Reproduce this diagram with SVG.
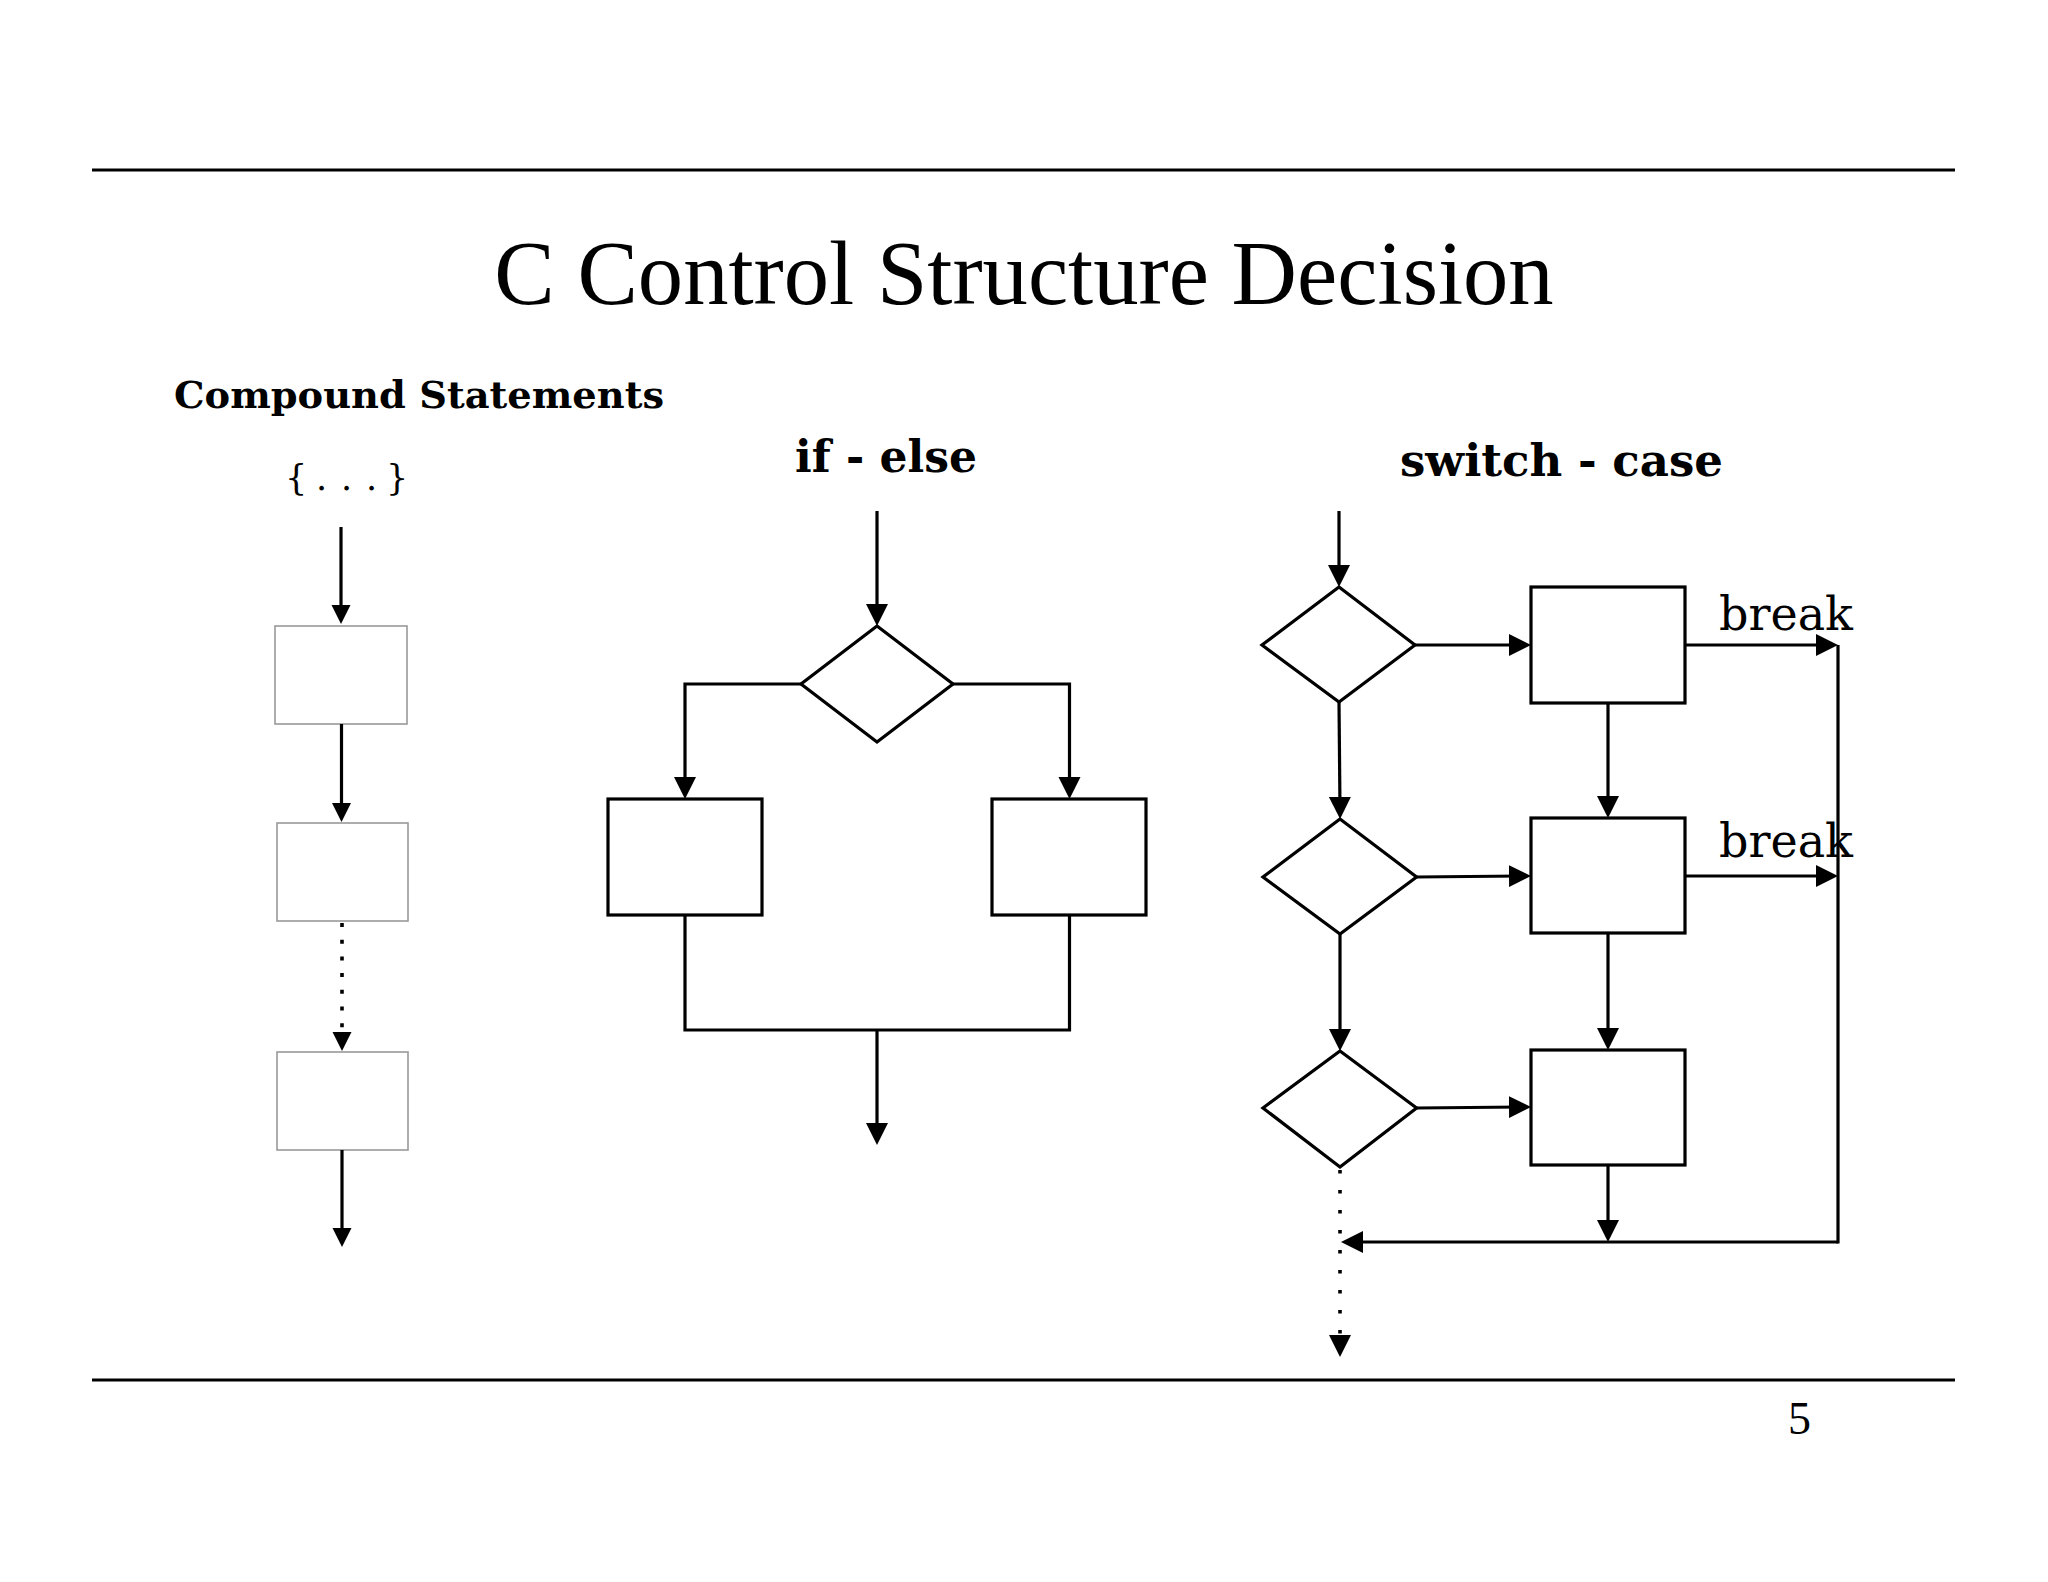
<svg xmlns="http://www.w3.org/2000/svg" width="2048" height="1582" viewBox="0 0 2048 1582">
<style>
.ln{stroke:#000;stroke-width:3.2;fill:none}
.sh{stroke:#000;stroke-width:3.2;fill:#fff}
.gb{stroke:#999;stroke-width:1.6;fill:#fff}
.arr{marker-end:url(#ah)}
.arrs{marker-end:url(#ahs)}
.dot1{stroke-dasharray:4 12.7;stroke-width:3.6}
.dot2{stroke-dasharray:3.5 16.5;stroke-width:3.6}
.hd{font-family:"DejaVu Serif","Liberation Serif",serif;font-weight:bold}
.lb{font-family:"DejaVu Serif","Liberation Serif",serif;font-size:46px}
</style>
<defs>
<marker id="ah" markerUnits="userSpaceOnUse" markerWidth="24" markerHeight="24" refX="12" refY="11" orient="auto" viewBox="0 0 24 24">
<path d="M0,0 L22,11 L0,22 z" fill="#000"/>
</marker>
<marker id="ahs" markerUnits="userSpaceOnUse" markerWidth="22" markerHeight="22" refX="10" refY="9.5" orient="auto" viewBox="0 0 22 22">
<path d="M0,0 L19,9.5 L0,19 z" fill="#000"/>
</marker>
</defs>
<rect width="2048" height="1582" fill="#fff"/>
<line x1="92" y1="170" x2="1955" y2="170" stroke="#000" stroke-width="3"/>
<line x1="92" y1="1380" x2="1955" y2="1380" stroke="#000" stroke-width="3"/>
<text x="1024" y="304" text-anchor="middle" font-family="'Liberation Serif',serif" font-size="90.6">C Control Structure Decision</text>
<text x="1788" y="1434" font-family="'Liberation Serif',serif" font-size="46">5</text>
<text class="hd" x="174" y="408" font-size="38" textLength="490" lengthAdjust="spacingAndGlyphs">Compound Statements</text>
<text class="hd" x="795" y="472" font-size="45" textLength="182" lengthAdjust="spacingAndGlyphs">if - else</text>
<text class="hd" x="1400" y="476" font-size="45" textLength="323" lengthAdjust="spacingAndGlyphs">switch - case</text>
<text x="285 305 316 330 341 355 366 378 386" y="490" font-family="'DejaVu Serif',serif" font-size="35">{ . . . }</text>
<g id="compound">
<rect id="c-box1" class="gb" x="275" y="626" width="132" height="98"/>
<rect id="c-box2" class="gb" x="277" y="823" width="131" height="98"/>
<rect id="c-box3" class="gb" x="277" y="1052" width="131" height="98"/>
</g>
<g id="ifelse">
<polygon id="ie-dec" class="sh" points="877,626 953,684 877,742 801,684"/>
<rect id="ie-left" class="sh" x="608" y="799" width="154" height="116"/>
<rect id="ie-right" class="sh" x="992" y="799" width="154" height="116"/>
</g>
<g id="switch">
<polygon id="sw-d1" class="sh" points="1339,587 1415,645 1339,702 1262,645"/>
<polygon id="sw-d2" class="sh" points="1340,819 1416.6,877 1340,934 1263,877"/>
<polygon id="sw-d3" class="sh" points="1340,1051 1416.6,1108 1340,1167 1263,1108"/>
<rect id="sw-b1" class="sh" x="1531" y="587" width="154" height="116"/>
<rect id="sw-b2" class="sh" x="1531" y="818" width="154" height="115"/>
<rect id="sw-b3" class="sh" x="1531" y="1050" width="154" height="115"/>
<text class="lb" x="1719" y="630" textLength="134" lengthAdjust="spacingAndGlyphs">break</text>
<text class="lb" x="1719" y="857" textLength="134" lengthAdjust="spacingAndGlyphs">break</text>
</g>
<g id="connectors">
<line class="ln arrs" x1="341" y1="527" x2="341" y2="615"/>
<line class="ln arrs" x1="341.5" y1="724" x2="341.5" y2="813"/>
<line class="ln arrs dot1" x1="342" y1="923" x2="342" y2="1042"/>
<line class="ln arrs" x1="342" y1="1150" x2="342" y2="1238"/>
<line class="ln arr" x1="877" y1="511" x2="877" y2="616"/>
<polyline class="ln arr" points="801,684 685,684 685,789"/>
<polyline class="ln arr" points="953,684 1069.5,684 1069.5,789"/>
<polyline class="ln" points="685,915 685,1030 1069.5,1030 1069.5,915"/>
<line class="ln arr" x1="877" y1="1030" x2="877" y2="1135"/>
<line class="ln arr" x1="1339" y1="511" x2="1339" y2="577"/>
<line class="ln arr" x1="1415" y1="645" x2="1521" y2="645"/>
<line class="ln arr" x1="1685" y1="645" x2="1828" y2="645"/>
<line class="ln" x1="1838" y1="645" x2="1838" y2="1243.5"/>
<line class="ln arr" x1="1608" y1="703" x2="1608" y2="808"/>
<line class="ln arr" x1="1339" y1="702" x2="1340" y2="809"/>
<line class="ln arr" x1="1416.6" y1="877" x2="1521" y2="876"/>
<line class="ln arr" x1="1685" y1="876" x2="1828" y2="876"/>
<line class="ln arr" x1="1340" y1="934" x2="1340" y2="1041"/>
<line class="ln arr" x1="1416.6" y1="1108" x2="1521" y2="1107"/>
<line class="ln arr" x1="1608" y1="933" x2="1608" y2="1040"/>
<line class="ln arr" x1="1608" y1="1165" x2="1608" y2="1232"/>
<line class="ln arr" x1="1838" y1="1242" x2="1351" y2="1242"/>
<line class="ln arr dot2" x1="1340" y1="1170" x2="1340" y2="1347"/>
</g>
</svg>
